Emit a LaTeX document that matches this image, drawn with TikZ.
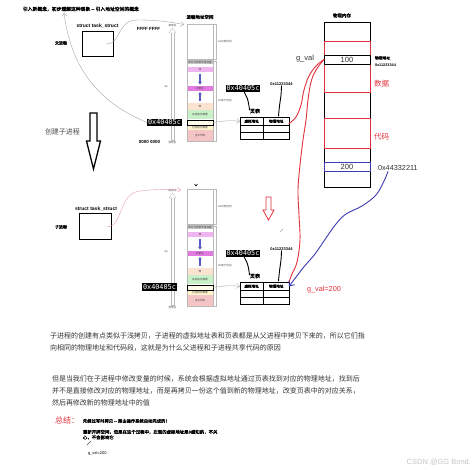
\documentclass[tikz,border=0pt]{standalone}
\usepackage{fontspec}
\setmainfont{Liberation Sans}
\newfontfamily\cjk{Noto Sans CJK SC}
\newfontfamily\cjkb[FakeBold=2]{Noto Sans CJK SC}
\newfontfamily\monofnt{DejaVu Sans Mono}
\usetikzlibrary{arrows.meta}
\newcommand{\myfs}[1]{\fontsize{#1}{#1}\selectfont}
\definecolor{pinkA}{HTML}{F0B4F0}
\definecolor{magA}{HTML}{E27AE2}
\definecolor{peachA}{HTML}{FCE3CF}
\definecolor{greenA}{HTML}{C9F1C9}
\definecolor{yelA}{HTML}{FFF4CC}
\definecolor{rosA}{HTML}{F5C4C4}
\definecolor{gbandA}{HTML}{C8C8C8}
\definecolor{arrowA}{HTML}{5A5AC8}
\definecolor{redA}{HTML}{E2303C}
\definecolor{blueA}{HTML}{3C3CB4}
\definecolor{txtA}{HTML}{333333}
\definecolor{pinkC}{HTML}{E8A0B4}
\begin{document}
\begin{tikzpicture}[x=1pt,y=-1pt, every node/.style={inner sep=0pt,outer sep=0pt},
  tiny/.style={font={\cjk\myfs{2.6}}, text=black!75},
  tinyb/.style={font={\cjkb\myfs{3.6}}, text=black},
  addr/.style={fill=black, text=white, font={\monofnt\myfs{6.8}}, inner xsep=1pt, inner ysep=1.2pt},
  gcurve/.style={draw=gray!70, line width=0.4pt, -{Straight Barb[length=3pt,width=5pt]}},
  hand/.style={line width=0.9pt, line cap=round, line join=round},
  band/.style={draw=gray!55, line width=0.3pt},
  stackarrow/.style={draw=arrowA, line width=1.3pt, -{Triangle[length=2.5pt,width=3.5pt]}},
  tbl/.style={draw, line width=0.8pt}]
\path[fill=white,use as bounding box] (0,0) rectangle (474,470);

% ---------- top text ----------
\node[anchor=west, font={\cjkb\myfs{4.8}}] (toptxt) at (23,9) {引入新概念，初步理解这种现象 -- 引入地址空间的概念};

% ---------- parent process ----------
\node[font={\bfseries\myfs{5}}] (pst) at (97.5,25.5) {struct task\_struct};
\node[draw, line width=0.8pt, minimum width=31pt, minimum height=25pt] (pbox) at (97.5,43.5) {};
\node[font={\cjkb\myfs{4}}] (plbl) at (61,43) {父进程};
\node[font={\bfseries\myfs{4.5}}] (ff) at (148.5,29) {FFFF FFFF};
\node[font={\bfseries\myfs{4.5}}] (zz) at (149.5,142) {0000 0000};
\node[font={\cjkb\myfs{4.5}}] (hdr) at (200,17) {进程地址空间};

% ---------- child process ----------
\node[font={\bfseries\myfs{5}}] (cst) at (96,209) {struct task\_struct};
\node[draw, line width=0.8pt, minimum width=32pt, minimum height=26pt] (cbox) at (95,226) {};
\node[font={\cjkb\myfs{4}}] (clbl) at (61,227) {子进程};
\draw[line width=0.6pt] (194.5,184) -- (196,186) -- (197.5,184);

% ---------- address spaces and page tables ----------
\foreach \s/\o in {a/0,b/165}{
\begin{scope}[shift={(0,\o)}]
  % left address bar
  \draw[band] (171,32) rectangle (174,140);
  \draw[band, fill=white] (169,33) -- (172.5,28) -- (176,33) -- cycle;
  \node[tiny] (hi\s) at (172.5,25.5) {高地址};
  \node[tiny] (lo\s) at (172.5,143) {低地址};
  \node[tiny] (fg\s) at (166,87) {4G};
  % column
  \draw[band] (187,24) rectangle (213,59);
  \fill[gbandA] (187,60) rectangle (213,64.5);
  \node[tiny] (cmd\s) at (200,62.2) {命令行参数环境变量};
  \fill[pinkA] (187,67) rectangle (213,72);
  \node[tiny] (stk\s) at (200,69.5) {栈};
  \draw[stackarrow] (200,74) -- (200,84.5);
  \fill[magA] (187,86) rectangle (213,91);
  \node[tiny] (shr\s) at (200,88.5) {共享区};
  \draw[stackarrow] (200,101.5) -- (200,92);
  \fill[peachA] (187,103) rectangle (213,110);
  \node[tiny] (heap\s) at (200,106.5) {堆};
  \fill[greenA] (187,110.5) rectangle (213,119);
  \node[tiny] (bss\s) at (200,114.8) {未初始化数据};
  \fill[yelA] (187,125.5) rectangle (213,130);
  \node[tiny] (dat\s) at (200,127.8) {已初始化数据};
  \fill[rosA] (187,130.5) rectangle (213,141);
  \node[tiny] (txt\s) at (200,135.8) {正文代码};
  \draw[band] (187,60) rectangle (213,141);
  \node[draw=black, line width=0.9pt, fill=yelA!40, minimum width=26pt, minimum height=5pt] (gv\s) at (200,122.5) {};
  % brackets
  \draw[band] (213.5,24) -- (216,24) -- (216,59) -- (213.5,59);
  \node[tiny, anchor=west] (kn\s) at (218,42) {1G内核空间};
  \draw[band] (213.5,61) -- (216,61) -- (216,141) -- (213.5,141);
  \node[tiny, anchor=west] (us\s) at (218,101) {3G用户空间};
  % page table
  \node[tbl, minimum width=49pt, minimum height=22pt, anchor=north west] (pt\s) at (240,117) {};
  \draw[line width=0.8pt] (240,125) -- (289,125);
  \draw[line width=0.8pt] (240,132) -- (289,132);
  \draw[line width=0.8pt] (263.5,117) -- (263.5,139);
  \node[tinyb] (vh\s) at (251.7,121.2) {虚拟地址};
  \node[tinyb] (ph\s) at (276.3,121.2) {物理地址};
  \node[font={\cjkb\myfs{5}}] (ptl\s) at (255,111) {页表};
  \node[addr] (va\s) at (243,88.5) {0x40405c};
  \node[font={\bfseries\myfs{4}}] (pa\s) at (281.5,84.5) {0x11223344};
  \coordinate (pc\s) at (278.5,116);
  \draw[hand] plot[smooth] coordinates {(va\s.-70) (247.5,99) (249,106) (249.5,110)};
  \draw[hand] plot[smooth] coordinates {(pa\s.south) (281,95) (279.5,106) (pc\s)};
  \draw[gcurve] (gv\s.east) .. controls (224,121) and (230,120) .. (pt\s.165);
\end{scope}
}

% left 0x40405c labels
\node[addr] (la) at (164.5,122.5) {0x40405c};
\node[addr] (lb) at (159.5,287) {0x40405c};

% grey curves
\coordinate (tt) at (64,13);
\draw[gcurve] (la.west) .. controls (105,105) and (72,75) .. (tt);
\coordinate (ps) at (106,44);
\coordinate (ct) at (184,24.5);
\draw[gcurve] (ps) .. controls (122,44) and (116,20) .. (138,20) .. controls (158,20) and (170,22) .. (ct);
\coordinate (cs) at (106,227);
\coordinate (cc) at (181,190);
\draw[gcurve, draw=pinkC] (cs) .. controls (124,227) and (118,193) .. (140,191) .. controls (158,189) and (168,189) .. (cc);

% big hollow arrow and label
\draw[line width=1.3pt, line join=miter] (90,113) -- (97,113) -- (97,141) -- (100.5,141) -- (93.5,169) -- (86.5,141) -- (90,141) -- cycle;
\node[font={\cjk\myfs{7}}, text=black!70] (mk) at (62.5,132) {创建子进程};
% small red hollow arrow
\draw[redA, line width=0.8pt, line join=miter] (266,197) -- (271,197) -- (271,210) -- (274,210) -- (268.5,220) -- (263,210) -- (266,210) -- cycle;
\draw[gray!70, line width=0.5pt] (280,232) -- (283,229);

% ---------- physical memory ----------
\node[font={\cjkb\myfs{4.5}}] (memh) at (342,15.5) {物理内存};
\node[draw, line width=0.9pt, minimum width=46pt, minimum height=165pt, anchor=north west] (mem) at (324,22) {};
\draw[redA, line width=0.8pt] (324,41) rectangle (370,92);
\draw[redA, line width=0.8pt] (324,118) rectangle (370,148);
\node[draw, line width=0.9pt, fill=white, minimum width=46pt, minimum height=9pt, anchor=north west, font=\myfs{7.5}, text=black!80] (c100) at (324,55) {100};
\node[draw=blueA, line width=0.8pt, fill=white, minimum width=46pt, minimum height=9pt, anchor=north west, font=\myfs{7.5}, text=black!80] (c200) at (324,162) {200};
\node[anchor=west, font={\cjkb\myfs{3.8}}] (pal) at (375,58) {物理地址};
\node[anchor=west, font={\bfseries\myfs{3.8}}] (pav) at (375,65) {0x11223344};
\node[anchor=west, font={\cjk\myfs{7.5}}, text=redA] (dl) at (374,84) {数据};
\node[anchor=west, font={\cjk\myfs{7.5}}, text=redA] (cl) at (374,137) {代码};
\node[anchor=west, font=\myfs{7.3}, text=black!80] (a44) at (378,168) {0x44332211};
\node[font=\myfs{7.5}, text=black!80] (gvl) at (305,59) {g\_val};
\node[anchor=west, font=\myfs{7.3}, text=redA] (gv200) at (307,290) {g\_val=200};

% red hand lines
\draw[redA, hand] plot[smooth, tension=0.6] coordinates {(pta.10) (296,117) (301,105) (304,90) (309,76) (316,66) (c100.west)};
\draw[redA, hand] plot[smooth, tension=0.6] coordinates {(c100.west) (316,70) (311,82) (308,100) (306,120) (303,140) (300,165) (298,190) (299,215) (300,240) (297,262) (292,274) (ptb.north east)};
% blue hand line
\coordinate (bs) at (388,171.5);
\draw[blueA, hand, -{Straight Barb[length=4pt,width=7pt]}] plot[smooth, tension=0.6] coordinates {(bs) (384,181) (376,195) (362,206) (346,214) (336,224) (326,238) (315,254) (303,268) (ptb.15)};

% ---------- text ----------
\node[anchor=west, font={\cjk\myfs{7}}, text=txtA] (p1) at (50,336) {子进程的创建有点类似于浅拷贝，子进程的虚拟地址表和页表都是从父进程中拷贝下来的，所以它们指};
\node[anchor=west, font={\cjk\myfs{7}}, text=txtA] (p2) at (50,348) {向相同的物理地址和代码段，这就是为什么父进程和子进程共享代码的原因};
\node[anchor=west, font={\cjk\myfs{7}}, text=txtA] (p3) at (52,379) {但是当我们在子进程中修改变量的时候，系统会根据虚拟地址通过页表找到对应的物理地址，找到后};
\node[anchor=west, font={\cjk\myfs{7}}, text=txtA] (p4) at (52,391) {并不是直接修改对应的物理地址，而是再拷贝一份这个值到新的物理地址，改变页表中的对应关系，};
\node[anchor=west, font={\cjk\myfs{7}}, text=txtA] (p5) at (52,402.5) {然后再修改新的物理地址中的值};
\node[anchor=west, font={\cjk\myfs{8}}, text=redA] (sum) at (55,420) {总结：};
\node[anchor=west, font={\cjkb\myfs{4.3}}] (s1) at (83,421) {先经过写时拷贝 -- 是由操作系统自动完成的！};
\node[anchor=west, font={\cjkb\myfs{4.4}}] (s2) at (83,432) {重新开辟空间，但是在这个过程中，左侧的虚拟地址是0感知的，不关};
\node[anchor=west, font={\cjkb\myfs{4.4}}] (s3) at (83,437.5) {心，不会影响它};
\draw[black!70, line width=0.4pt] (87,445) -- (91,441);
\node[anchor=west, font=\myfs{4}] (s4) at (88,453) {g\_val=200};
\node[anchor=east, font=\myfs{7.5}, text=gray!45] (wm) at (471,462) {CSDN @GG Bond.};
\end{tikzpicture}
\end{document}
